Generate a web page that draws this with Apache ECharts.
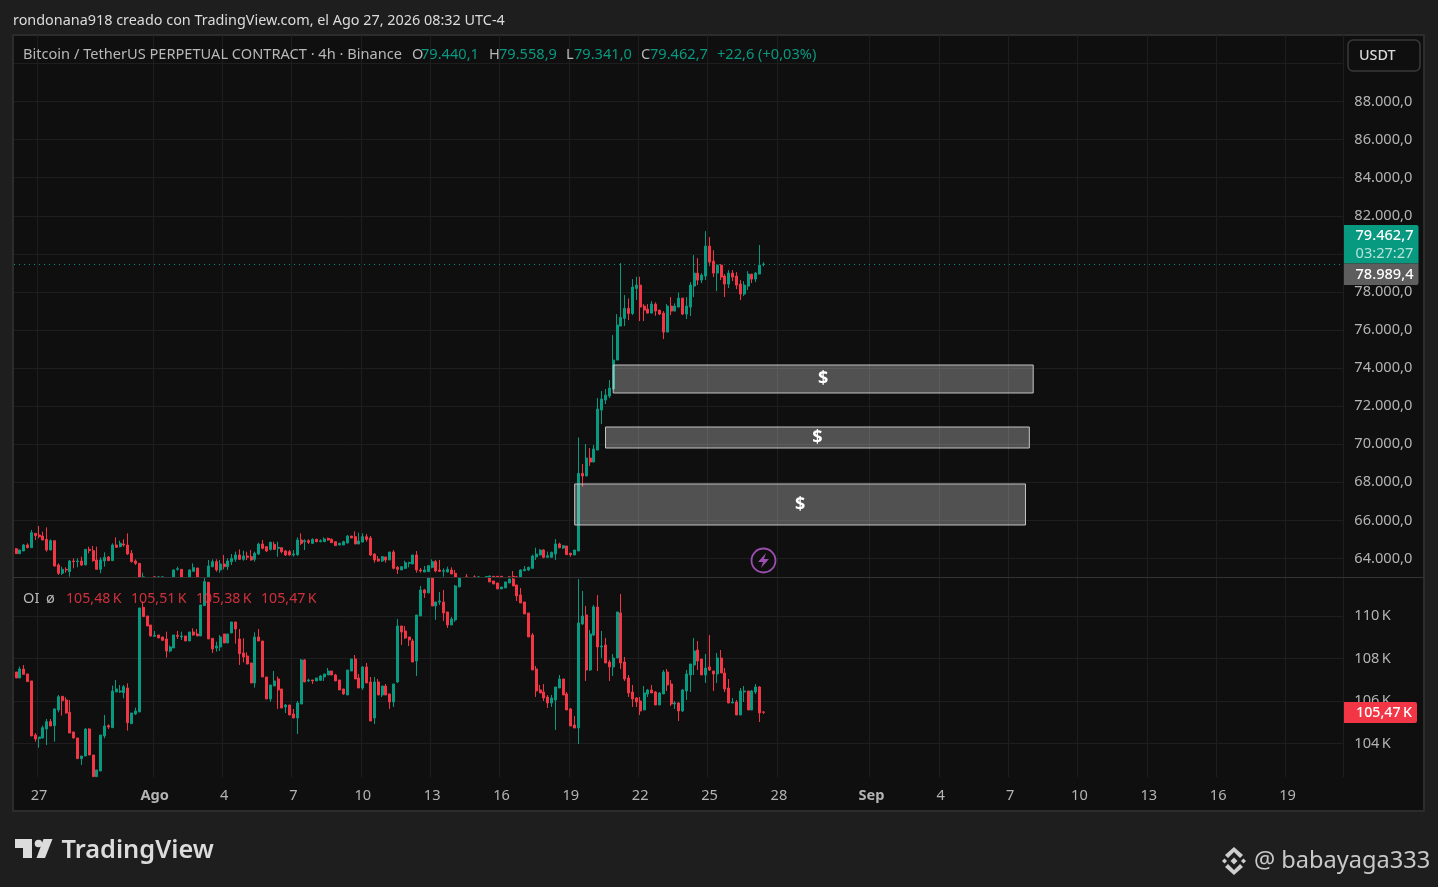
<!DOCTYPE html>
<html><head><meta charset="utf-8">
<style>html,body{margin:0;padding:0;background:#1e1e1e}#c{width:1438px;height:887px}</style>
<script src="https://cdn.jsdelivr.net/npm/echarts@6/dist/echarts.min.js"></script>
</head><body><div id="c"></div>
<script>
// rows: [open, close, low, high]
const priceOhlc = [
[64516,64254,64236,64551],[64254,64446,64236,64446],[64394,64709,64394,64761],[64709,64569,64534,64796],[64569,65356,64569,65496],
[65321,65199,64971,65321],[65234,65146,65059,65706],[65181,64971,64971,65409],[65006,64446,64359,65636],[64446,64936,64446,65006],
[64936,63606,63571,64936],[63659,63221,63134,63746],[63221,63431,63134,63571],[63431,63396,63256,63536],[63309,63869,63046,63921],
[63869,63834,63484,64009],[63834,63869,63536,64009],[63869,63659,63606,64096],[63659,64481,63659,64481],[64481,64411,64271,64621],
[64411,63886,63834,64656],[63921,63431,63431,64621],[63431,63921,63221,64061],[63869,64061,63571,64324],[64079,63886,63869,64131],
[63886,64709,63869,64796],[64709,64586,64569,65111],[64621,64796,64586,64936],[64761,64709,64621,65006],[64709,64236,64184,65321],
[64271,63834,63781,64446],[63869,63746,63659,63956],[63746,62500,62400,63746],[62500,62700,62400,63256],[62700,62400,62200,62800],
[62400,62600,62300,62800],[62500,62850,62400,63082],[62850,62950,62700,63070],[62950,62700,62600,63060],[62700,62900,62600,62980],
[62900,62990,62800,63000],[62871,63396,62800,63431],[63431,63466,63361,63571],[63431,62950,62900,63431],[62950,63000,62900,63010],
[62950,63396,62900,63431],[63326,63519,63326,63746],[63501,62950,62900,63501],[62950,62700,62600,63000],[62700,62900,62650,62980],
[62871,63606,62800,63921],[63571,63834,63536,63956],[63834,63396,63309,63956],[63396,63711,63256,63921],[63711,63571,63431,64184],
[63571,63869,63396,64009],[63834,64009,63659,64236],[63956,64184,63834,64359],[64184,63956,63921,64481],[63956,64131,63886,64411],
[64131,64061,63921,64359],[64096,63921,63886,64446],[63956,64271,63834,64359],[64236,64761,64184,64831],[64761,64534,64481,64971],
[64621,64394,64341,64656],[64481,64849,64411,64884],[64744,64481,64446,64884],[64534,64586,64096,64884],[64569,64359,64271,64569],
[64394,64184,64131,64446],[64359,64184,64149,64446],[64184,64236,64096,64446],[64201,64971,64131,65111],[64971,64796,64709,65321],
[64884,64936,64446,65006],[64936,64849,64761,65006],[64796,65006,64761,65059],[65006,64884,64849,65041],[64884,64936,64849,65006],
[64884,65024,64866,65111],[65059,64971,64936,65094],[65006,64831,64831,65059],[64884,64674,64674,64884],[64709,64796,64691,64831],
[64709,64884,64709,64936],[64814,65181,64796,65234],[65181,65076,65076,65181],[65146,64761,64761,65426],[64761,64919,64761,65356],
[64866,65146,64849,65321],[65146,65006,64884,65286],[65076,64184,64131,65181],[64236,63921,63781,64271],[63974,63869,63834,64131],
[63869,64096,63816,64131],[64079,63921,63781,64079],[63921,64341,63921,64341],[64341,63484,63431,64446],[63536,63431,63186,63606],
[63396,63571,63396,63571],[63484,63781,63449,63886],[63746,63781,63536,63834],[63711,64184,63711,64184],[64184,63396,63256,64394],
[63396,63344,63256,63501],[63291,63396,63291,63606],[63309,63624,63309,63659],[63536,63834,63484,63956],[63834,63344,63274,63921],
[63396,63326,63291,63921],[63326,63361,63046,63484],[63291,63431,63274,63571],[63396,63186,63186,63536],[63221,62870,62800,63396],
[62870,62600,62500,62950],[62600,62800,62500,62900],[62800,62600,62500,63186],[62600,62800,62550,62950],[62800,62950,62700,63116],
[62700,62950,62600,63081],[62950,62800,62700,62990],[62900,63054,62800,63070],[62950,63081,62900,63100],[63064,62950,62900,63064],
[63064,62950,62900,63064],[63064,62950,62900,63064],[62950,63010,62900,63020],[62950,63000,62900,63064],[63064,63029,62900,63344],
[63000,62900,62800,63081],[62871,63396,62800,63431],[63361,63431,63326,63606],[63396,63536,63344,63571],[63484,64131,63466,64201],
[64079,64236,63921,64569],[64184,64446,64166,64481],[64446,64061,64009,64481],[64061,64149,64044,64359],[64061,64324,64044,64359],
[64236,64761,63921,65024],[64761,64569,64534,64831],[64551,64674,64499,64709],[64656,64201,64201,64656],[64271,64201,64096,64306],
[64184,64446,64184,64446],[64394,68471,64394,70361],[68471,68331,67771,68961],[68331,69276,68331,70011],[69276,69066,68856,69801],
[69066,69749,69066,69959],[69696,71849,69696,72426],[71796,72374,71061,72794],[72321,72584,72111,72899],[72531,72951,72426,73371],
[72899,74421,72899,75734],[74422,76259,74422,76836],[76206,76661,76206,79514],[76609,77134,76206,77834],[77134,76871,76521,77659],
[76871,78254,76784,78674],[78184,78359,77571,78796],[78359,77204,76469,78796],[77256,77046,76469,77361],[77099,76889,76871,77361],
[76889,77361,76871,77519],[77361,76994,76749,77449],[77046,76836,76784,77046],[76889,75891,75524,76994],[75891,77256,75891,77361],
[77256,76994,76784,77729],[76994,77256,76994,77396],[77204,77676,77204,77974],[77676,76836,76784,77676],[76836,77256,76574,77729],
[77204,78359,76731,78516],[78306,78989,77729,79934],[78989,78621,78359,79776],[78621,78884,78464,78989],[78831,80406,78621,81194],
[80406,79566,79356,80879],[79619,78989,78779,80196],[78989,79409,78044,79444],[79409,78779,78621,79461],[78831,78411,77729,78936],
[78411,78989,78201,79146],[78989,78779,78569,79146],[78831,78359,78149,79041],[78411,77886,77571,78621],[77886,78359,77781,78569],
[78306,78936,78096,79094],[78936,78674,78464,78936],[78674,78989,78516,79041],[78936,79409,78936,80459],[79440,79462,79341,79558]
];
const oiOhlc = [
[107365,107083,107083,107365],[107083,107506,107083,107616],[107506,107255,107255,107695],[107271,106910,106910,107271],[106942,104353,104353,106942],
[104400,104211,104086,104494],[104227,104306,103804,104306],[104259,104745,104243,104839],[104682,105027,103929,105153],[105027,104823,104823,105153],
[104839,105624,104086,105655],[105577,106204,105467,106283],[106220,106016,105310,106220],[106047,105435,105404,106173],[105467,104494,104494,106047],
[104541,104259,104243,104557],[104259,103286,103286,104259],[103286,103411,102988,103411],[103411,104682,103411,104714],[104682,103458,103458,104714],
[103458,102439,102439,103458],[102439,102752,102439,102752],[102705,104400,102705,104400],[104353,104823,104243,105341],[104839,104776,104682,104902],
[104745,106471,104745,106722],[106424,106565,106424,106989],[106424,106471,106377,106753],[106392,106675,106126,106753],[106612,104980,104604,106832],
[104933,105435,104933,105435],[105388,105529,105341,105686],[105482,110378,105482,110378],[110409,109970,109970,110676],[110001,109530,109530,110001],
[109577,109060,109028,109577],[109044,109091,109028,109295],[109107,108966,108966,109107],[109013,108856,108856,109013],[108919,108354,108040,109264],
[108354,108542,108291,108605],[108495,109107,108495,109107],[109091,109044,108919,109295],[109013,109060,108871,109264],[109060,108824,108824,109060],
[108824,109248,108824,109248],[109248,109107,109075,109421],[109154,109060,109060,109389],[109060,110519,109060,110519],[110488,111617,110488,111806],
[111586,108919,108919,111586],[108950,108448,108260,108950],[108495,108589,108322,108793],[108542,109013,108354,109107],[109154,108730,108730,109154],
[108730,109154,108730,109154],[109201,109719,109201,109719],[109719,109389,108699,109719],[108919,108228,107695,109389],[108260,108071,107820,108950],
[108118,107742,107726,108291],[107789,106848,106848,107789],[106848,109013,106628,109232],[109013,108824,108824,109389],[108824,107130,107130,108824],
[107130,106094,106094,107130],[106094,106753,105969,106753],[106706,106942,106706,107412],[107036,106518,105624,107146],[106565,105671,105671,106565],
[105718,105812,105435,105859],[105812,105341,105341,105812],[105388,105200,105200,105624],[105200,105906,104447,106000],[105859,107930,105859,107977],
[107930,106895,106895,107977],[106942,106989,106895,107051],[106989,106942,106800,106989],[106942,107083,106942,107083],[106973,107177,106942,107224],
[107130,107271,106942,107271],[107224,107412,107224,107553],[107412,107224,107224,107412],[107224,106942,106942,107271],[106989,106518,106518,106989],
[106565,106330,106283,106565],[106283,107459,106283,107459],[107412,107977,107412,107977],[107977,107036,107036,108165],[107083,106612,106612,107271],
[106612,107601,106518,107632],[107601,106848,106848,107789],[106895,105059,105059,107130],[105200,106895,104918,107130],[106895,106283,106283,107036],
[106283,106706,106188,106706],[106706,106283,106283,106800],[106330,105953,105624,106330],[105953,106800,105718,106800],[106895,109530,106848,109860],
[109530,109248,108636,109530],[109295,108966,108919,109530],[109013,108871,108589,109013],[108824,107836,107836,108919],[107883,110048,107177,110048],
[110001,111225,110001,111413],[111225,111084,110848,111272],[111084,111790,111084,111790],[111790,110472,110472,111790],[110472,110660,109813,110660],
[110660,110707,110519,111131],[110660,110142,109766,111225],[110189,109577,109436,110189],[109577,109860,109577,109954],[109813,111413,109719,111460],
[111366,111790,111366,111790],[111800,112300,111800,112500],[112300,112000,111900,112600],[112000,112200,111950,112400],[112200,112000,111950,112300],
[112000,112300,111950,112400],[112300,112100,112000,112400],[112100,111850,111800,112200],[111790,111602,111602,111790],[111649,111507,111507,111649],
[111554,111272,111272,111554],[111272,111366,111272,111366],[111319,111602,111319,111602],[111554,111743,111554,111743],[111743,111413,111413,111806],
[111460,110943,110707,111460],[110990,110613,110613,111319],[110660,110095,110095,110660],[110142,109013,109013,110142],[109107,107459,107459,109201],
[107506,106471,106188,107648],[106518,106377,106377,106753],[106424,106141,106000,106800],[106188,105906,105671,106283],[105906,106141,105718,106283],
[106047,106659,104635,106659],[106612,107036,106612,107224],[107036,106283,106283,107036],[106330,105577,105577,106424],[105624,104823,104823,105671],
[104870,104729,104729,105294],[104729,109672,103976,111743],[109625,110001,109577,111178],[110048,107459,106942,110472],[107459,109154,107412,109342],
[109107,110425,109060,110519],[110425,108542,107412,110990],[108542,108589,108024,109295],[108636,107789,107789,108966],[107836,107601,106942,107930],
[107601,108024,107177,108212],[108024,110189,108024,110189],[110142,107789,107506,111037],[107836,107036,106942,108071],[107083,106377,106188,107224],
[106424,106094,105718,106753],[106141,105953,105718,106188],[106000,105529,105341,106188],[105577,106377,105577,106706],[106330,106518,106188,106565],
[106518,106377,106377,106753],[106424,105812,105812,106471],[105812,106377,105812,106424],[106330,107365,106330,107459],[107365,106753,106471,107506],
[106800,105859,105765,106989],[105859,105906,105624,106000],[105906,105529,105059,105953],[105529,106518,105482,106565],[106471,107271,106047,107459],
[107224,107742,106424,107742],[107695,108354,107224,108966],[108401,107883,107459,108824],[107977,107224,107224,107977],[107224,107553,106848,108212],
[107601,107459,107412,109107],[107412,107271,106471,107412],[107271,108024,106848,108260],[108024,107318,107318,108401],[107318,106565,106424,107553],
[106612,105906,105906,107036],[105906,105953,105906,106141],[105953,105341,105341,106047],[105341,106471,105341,106612],[106424,106471,105953,106706],
[106471,105577,105577,106471],[105577,106471,105577,106518],[106424,106659,106330,106800],[106659,105435,105012,106706],[105482,105470,105388,105529]
];
// day offset from 26 Jul (6 bars a day) and its tick label
const tickDays = [1,6,9,12,15,18,21,24,27,30,33,37,40,43,46,49,52,55];
const tickLabels = ['27','Ago','4','7','10','13','16','19','22','25','28','Sep','4','7','10','13','16','19'];
const boldLabels = ['Ago','Sep'];
const priceTicks = [64000,66000,68000,70000,72000,74000,76000,78000,80000,82000,84000,86000,88000,90000];
const oiTicks = [104000,106000,108000,110000];
// [top, bottom, first bar index, last bar index]
const zones = [[74162,72692,155,264],[70906,69803,153,263],[67913,65759,145,262]];
const lastClose = 79462.7;

const UP='#089981', DOWN='#F23645';
const FONT='"Noto Sans",sans-serif';
const barCount=345, barW=3.853, left=14.075;
const PRICE_MIN=63028, PRICE_MAX=91494, OI_MIN=102423, OI_MAX=111788;
const categories=Array.from({length:barCount},(_,i)=>String(i));
const tickIndex=tickDays.map(d=>d*6);
const isTick=i=>tickIndex.indexOf(i)>=0;
const fmtPrice=v=>v.toLocaleString('de-DE',{minimumFractionDigits:1,maximumFractionDigits:1});
// the library only skips bars that are wholly outside a pane, so bars that straddle its edge are trimmed here
const fitPane=(rows,lo,hi)=>rows.map(r=>(r[3]<lo||r[2]>hi)?['-','-','-','-']:r.map(v=>Math.min(hi,Math.max(lo,v))));
const xAxisBase={type:'category',data:categories,axisLine:{show:false},
  axisTick:{show:false,alignWithLabel:true,interval:(i)=>isTick(i)},
  splitLine:{show:true,interval:(i)=>isTick(i),lineStyle:{color:'#1e1e1e',width:1}}};
const candle=(data,x,y,extra)=>Object.assign({type:'candlestick',xAxisIndex:x,yAxisIndex:y,data,barWidth:2.5,clip:true,animation:false,silent:true,
  itemStyle:{color:UP,color0:DOWN,borderColor:UP,borderColor0:DOWN,borderWidth:1}},extra||{});
const txt=(x,y,text,fill,size,extra)=>({type:'text',x,y:y+0.5,z:100,silent:true,style:Object.assign({text,fill,font:`${size||14.6}px ${FONT}`,textVerticalAlign:'middle',textAlign:'left'},extra||{})});
const rect=(x,y,w,h,fill,z,extra)=>({type:'rect',shape:Object.assign({x,y,width:w,height:h},extra&&extra.shape||{}),z:z==null?90:z,silent:true,style:Object.assign({fill},extra&&extra.style||{})});
const GREY='#b8b8b8', LOGO='#dcdcdc', BN='#cfcfcf';
const graphic=[
 rect(13,35,1411,776,'#0f0f0f',-10,{style:{stroke:'#2c2c2c',lineWidth:2}}),
 {type:'line',shape:{x1:13,y1:577.5,x2:1424,y2:577.5},z:50,silent:true,style:{stroke:'#333333',lineWidth:1}},
 txt(13,20,'rondonana918 creado con TradingView.com, el Ago 27, 2026 08:32 UTC-4','#dcdcdc',14.4),
 txt(23,54,'Bitcoin / TetherUS PERPETUAL CONTRACT · 4h · Binance',GREY),
 txt(412,54,'O',GREY),txt(421,54,'79.440,1',UP),
 txt(489,54,'H',GREY),txt(499,54,'79.558,9',UP),
 txt(566,54,'L',GREY),txt(574,54,'79.341,0',UP),
 txt(641,54,'C',GREY),txt(650,54,'79.462,7',UP),
 txt(717,54,'+22,6 (+0,03%)',UP),
 {type:'rect',shape:{x:1348,y:40,width:72,height:31,r:5},z:90,silent:true,style:{fill:'#0f0f0f',stroke:'#3a3a3a',lineWidth:1.5}},
 txt(1359,55,'USDT','#d8d8d8',14.4,{font:`500 14.4px ${FONT}`}),
 txt(23,598,'OI',GREY),txt(46,598,'ø',GREY),
 txt(66,598,'105,48\u2009K',DOWN,14.2,{opacity:.85}),txt(131,598,'105,51\u2009K',DOWN,14.2,{opacity:.85}),
 txt(196,598,'105,38\u2009K',DOWN,14.2,{opacity:.85}),txt(261,598,'105,47\u2009K',DOWN,14.2,{opacity:.85}),
 rect(1344,225,74.5,38.5,UP,90,{shape:{r:[0,2,0,0]}}),
 rect(1344,263.5,74.5,21.5,'#5e5e5e',90,{shape:{r:[0,0,2,0]}}),
 txt(1384.5,235,'79.462,7','#ffffff',14.6,{textAlign:'center',font:`500 14.6px ${FONT}`}),
 txt(1384.5,253,'03:27:27','#b5e3da',14.6,{textAlign:'center'}),
 txt(1384.5,274,'78.989,4','#ffffff',14.6,{textAlign:'center',font:`500 14.6px ${FONT}`}),
 rect(1344,702,73,21,DOWN,90,{shape:{r:[0,2,2,0]}}),
 txt(1384,712,'105,47\u2009K','#ffffff',14.2,{textAlign:'center',font:`500 14.2px ${FONT}`}),
 {type:'circle',shape:{cx:763.5,cy:560.5,r:12},z:90,silent:true,style:{fill:'#0f0f0f',stroke:'#9c4fb0',lineWidth:1.8}},
 {type:'polygon',shape:{points:[[766,553],[758,562],[763,562],[761,568],[769,559],[764,559]]},z:91,silent:true,style:{fill:'#9c4fb0'}},
 // TradingView mark
 {type:'polygon',shape:{points:[[15,839],[32,839],[32,858],[23,858],[23,848],[15,848]]},z:90,silent:true,style:{fill:LOGO}},
 {type:'circle',shape:{cx:38.5,cy:843.5,r:3.8},z:90,silent:true,style:{fill:LOGO}},
 {type:'polygon',shape:{points:[[43.5,839],[52.5,839],[45,858],[36.5,858]]},z:90,silent:true,style:{fill:LOGO}},
 txt(61.5,850,'TradingView',LOGO,25.4,{font:`600 25.4px ${FONT}`}),
 // Binance mark
 {type:'polygon',shape:{points:[[1234,847],[1243,855],[1240,858],[1234,852],[1228,858],[1225,855]]},z:90,silent:true,style:{fill:BN}},
 {type:'polygon',shape:{points:[[1234,875],[1243,867],[1240,864],[1234,870],[1228,864],[1225,867]]},z:90,silent:true,style:{fill:BN}},
 {type:'polygon',shape:{points:[[1234,857.5],[1237.5,861],[1234,864.5],[1230.5,861]]},z:90,silent:true,style:{fill:BN}},
 {type:'polygon',shape:{points:[[1224.5,858.5],[1227,861],[1224.5,863.5],[1222,861]]},z:90,silent:true,style:{fill:BN}},
 {type:'polygon',shape:{points:[[1243.5,858.5],[1246,861],[1243.5,863.5],[1241,861]]},z:90,silent:true,style:{fill:BN}},
 txt(1254,860.5,'@ babayaga333','#c8c8c8',23.6)
];

const zoneAreas=zones.map(z=>[{xAxis:z[2],yAxis:z[0]},{xAxis:z[3],yAxis:z[1]}]);
const axisLabelBase={color:'#b4b4b4',fontFamily:FONT,fontSize:14.6,margin:11,align:'left',showMinLabel:true,showMaxLabel:true};
const option={
 backgroundColor:'#1e1e1e',animation:false,textStyle:{fontFamily:FONT},
 graphic:{elements:graphic},
 grid:[
  {left,top:35,width:barCount*barW,height:542},
  {left,top:578,width:barCount*barW,height:199}
 ],
 xAxis:[
  Object.assign({},xAxisBase,{gridIndex:0,axisLabel:{show:false}}),
  Object.assign({},xAxisBase,{gridIndex:1,axisLabel:{show:true,margin:11,color:'#b4b4b4',fontFamily:FONT,fontSize:14.6,
    interval:(i)=>isTick(i),
    formatter:(v,i)=>{const k=tickIndex.indexOf(+v);return k<0?'':(boldLabels.indexOf(tickLabels[k])>=0?'{b|'+tickLabels[k]+'}':tickLabels[k]);},
    rich:{b:{fontWeight:'bold',color:'#b4b4b4',fontFamily:FONT,fontSize:14.6}}}})
 ],
 yAxis:[
  {type:'value',gridIndex:0,position:'right',min:PRICE_MIN,max:PRICE_MAX,scale:true,axisLine:{show:false},
   axisTick:{show:false,customValues:priceTicks},splitLine:{show:true,lineStyle:{color:'#1e1e1e'}},
   axisLabel:Object.assign({},axisLabelBase,{customValues:priceTicks,formatter:fmtPrice})},
  {type:'value',gridIndex:1,position:'right',min:OI_MIN,max:OI_MAX,scale:true,axisLine:{show:false},
   axisTick:{show:false,customValues:oiTicks},splitLine:{show:true,lineStyle:{color:'#1e1e1e'}},
   axisLabel:Object.assign({},axisLabelBase,{customValues:oiTicks,formatter:v=>(v/1000)+'\u2009K'})}
 ],
 series:[
  candle(fitPane(priceOhlc,PRICE_MIN,PRICE_MAX),0,0,{
   markLine:{silent:true,symbol:'none',animation:false,label:{show:false},lineStyle:{color:UP,type:[1,4],width:1},data:[{yAxis:lastClose}]},
   markArea:{silent:true,animation:false,z:10,itemStyle:{color:'rgba(255,255,255,0.28)',borderColor:'#c4c4c4',borderWidth:1},
     label:{show:true,position:'inside',formatter:'$',color:'#fff',fontSize:18,fontWeight:'bold',fontFamily:FONT},data:zoneAreas}
  }),
  candle(fitPane(oiOhlc,OI_MIN,OI_MAX),1,1)
 ]
};
const chart=echarts.init(document.getElementById('c'),null,{renderer:'canvas',width:1438,height:887});
chart.setOption(option);
</script></body></html>
